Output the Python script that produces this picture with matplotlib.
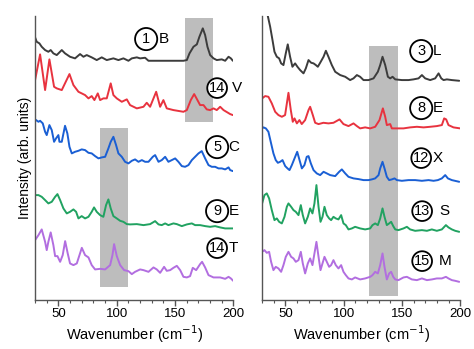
import matplotlib.pyplot as plt
from matplotlib.ticker import MultipleLocator

plt.rcParams['font.family'] = ['Liberation Sans', 'DejaVu Sans']

# ---- left panel spectra (wavenumber, stacked intensity) ----
l_black_x = [30.0, 31.4, 33.7, 35.7, 38.6, 41.4, 43.4, 45.7, 48.6, 52.9, 55.7, 60.0, 64.3, 68.6, 71.5, 74.3,
             78.6, 82.9, 87.2, 91.5, 97.2, 101.5, 105.8, 110.1, 113.0, 117.3, 120.1, 124.4, 127.3, 134.4, 145.9,
             157.3, 160.2, 162.5, 165.9, 168.8, 171.0, 173.9, 175.9, 177.9, 180.2, 183.1, 185.9, 190.2, 193.1,
             196.0, 198.0, 199.7]
l_black_y = [262.7, 258.3, 256.7, 253.3, 250, 248.3, 250, 246.7, 245, 250, 246.7, 243.3, 241.7, 246, 243.3, 245,
             242.7, 240, 242.7, 240, 241.7, 240, 241.7, 239.3, 241.7, 242.7, 241.7, 242.3, 239.3, 239.3, 239.3,
             239.3, 240, 246.7, 253.3, 255.7, 263.3, 271.7, 265, 253.3, 245, 241.7, 240, 240.7, 239.3,
             243.3, 241.7, 239.3]

l_red_x = [30.0, 34.3, 38.6, 42.3, 46.3, 48.6, 52.9, 59.5, 62.9, 67.2, 70.0, 72.9, 75.8, 78.6, 80.9, 83.8, 85.8,
           88.6, 91.5, 94.9, 97.2, 100.1, 104.4, 108.7, 111.5, 117.3, 123.0, 125.8, 128.7, 133.9, 137.3, 140.1,
           143.0, 148.7, 157.3, 160.2, 163.6, 166.5, 169.3, 171.6, 174.5, 177.3, 180.2, 183.1, 185.9, 188.8,
           191.7, 197.4, 199.7]
l_red_y = [220, 245.7, 210, 240.7, 213.3, 211.7, 210, 226, 215, 208.3, 206.7, 205, 201.7, 204, 200, 206.7, 200,
           201.7, 201.7, 216.7, 205, 201.7, 198.3, 200.7, 195, 191.7, 193.3, 197.3, 193.3, 208.3, 193.3, 200,
           191.7, 190, 188.3, 190, 200, 206, 200, 195, 195, 190.7, 190, 191.7, 190, 193.3,
           190, 186, 185]

l_blue_x = [30.0, 32.9, 34.3, 36.6, 38.6, 40.0, 42.3, 44.3, 46.3, 48.0, 50.0, 50.9, 52.9, 55.7, 57.7, 59.5, 61.5,
            64.3, 67.2, 70.0, 72.9, 75.8, 78.6, 81.5, 84.4, 87.2, 90.1, 92.9, 94.9, 97.2, 99.5, 101.5, 104.4,
            107.2, 110.1, 113.0, 115.8, 118.7, 121.6, 124.4, 127.3, 131.0, 133.0, 135.9, 138.7, 141.6, 144.4,
            147.3, 150.2, 153.0, 155.9, 158.7, 161.6, 164.5, 167.3, 170.2, 173.0, 175.9, 178.8, 181.6, 184.5,
            187.4, 190.2, 193.1, 196.0, 197.4, 199.7]
l_blue_y = [180.7, 178.3, 179.3, 176.7, 168.3, 165, 175, 170, 158.3, 161.7, 165, 158.3, 158.3, 174.3, 166.7, 153.3,
            146.7, 148.3, 149.3, 150.7, 150, 147.3, 146.7, 144, 141.7, 142.7, 143.3, 151.7, 158.3, 163.3, 155,
            146.7, 143.3, 138.3, 136.7, 139.3, 140.7, 138.3, 140, 138.3, 138.3, 143.3, 145, 138.3, 140, 143.3,
            138.3, 140, 141.7, 138.3, 134, 133.3, 135, 140, 143.3, 146.7, 149, 141.7, 135, 133.3, 133.3,
            131.7, 131.7, 130.7, 132.7, 130, 129]

l_green_x = [30.0, 32.9, 35.7, 38.6, 41.4, 44.3, 47.2, 49.2, 51.5, 54.3, 57.2, 60.0, 62.9, 65.2, 67.2, 70.0, 72.9,
             75.8, 78.6, 80.6, 82.9, 85.8, 88.6, 90.9, 92.9, 94.9, 97.2, 100.1, 103.0, 105.8, 108.7, 111.5,
             117.3, 123.0, 128.7, 133.0, 135.9, 138.7, 141.6, 144.4, 148.7, 151.6, 155.9, 160.2, 164.5, 167.3,
             171.6, 176.0, 180.2, 184.5, 188.8, 193.1, 199.7]
l_green_y = [105, 105, 103.3, 100, 96.7, 98.3, 103.3, 106, 100, 91.7, 86.7, 88.3, 90.7, 88.3, 81.7, 84, 81.7,
             83.3, 88.3, 92.7, 88.3, 85, 83.3, 95, 100.7, 91.7, 84, 81.7, 79.3, 78.3, 76, 75.7,
             76, 75, 76, 79, 75.7, 75, 76.7, 75, 76.7, 76, 74, 75.7, 76.7, 75,
             75, 74, 73.3, 74, 72.7, 71.7, 71.7]

l_purple_x = [30.0, 32.9, 35.7, 38.6, 40.0, 41.4, 43.4, 45.7, 47.2, 49.2, 51.5, 53.7, 55.8, 58.0, 60.0, 62.9,
              65.8, 68.1, 70.1, 72.9, 75.8, 78.6, 81.5, 85.8, 90.1, 94.4, 96.4, 97.8, 100.1, 103.0, 106.4,
              110.1, 113.0, 115.8, 120.1, 123.0, 127.3, 131.6, 134.4, 137.3, 140.7, 143.0, 145.9, 148.7, 151.6,
              154.5, 157.3, 160.2, 163.0, 165.3, 168.2, 171.6, 173.3, 175.9, 178.8, 183.1, 188.8, 193.1, 196.0,
              198.0, 200.0]
l_purple_y = [60, 65, 70.7, 58.3, 50, 58.3, 67.7, 55, 44, 44, 38.3, 45, 59, 46.7, 36.7, 35,
              36.7, 45, 52.3, 45, 42.7, 35, 30.7, 31.3, 30.7, 35, 45, 56, 44, 35, 30,
              29, 26, 28.3, 30.7, 30, 28.3, 32.7, 30.7, 27.3, 33.3, 29.3, 30, 32.3, 34.3,
              30, 23.3, 22.7, 24, 32.3, 30, 36, 38.3, 32.7, 25, 22.7, 22.7, 21.3, 23.3,
              21.7, 19.3]

# ---- right panel spectra ----
r_black_x = [30.0, 34.9, 36.9, 38.9, 40.6, 42.6, 44.6, 46.3, 48.3, 50.3, 52.0, 54.0, 56.0, 58.3, 60.3, 62.6,
             65.5, 67.5, 69.8, 72.1, 74.1, 76.1, 77.8, 79.8, 82.7, 84.7, 86.9, 89.8, 92.7, 97.0, 101.3, 105.5,
             108.4, 111.3, 114.1, 117.0, 121.3, 125.6, 129.3, 131.3, 133.3, 135.6, 137.9, 139.9, 141.9, 144.2,
             149.9, 155.6, 159.9, 164.2, 167.1, 169.9, 174.2, 178.5, 181.4, 183.7, 185.7, 188.5, 192.8, 199.1]
r_black_y = [305, 284, 273.3, 260, 248.3, 243.3, 241.7, 236.7, 235, 246.7, 255.7, 243.3, 233.3, 236.7, 233.3, 230,
             226.7, 231.7, 240, 237.3, 236.7, 235, 233.3, 237.3, 243.3, 249.3, 243.3, 235, 228.3, 225, 223.3, 220,
             221.7, 225, 223.3, 220, 220, 221.7, 228.3, 235, 243.3, 235, 223.3, 221.7, 223.3, 220.7,
             220, 220, 220.7, 221.7, 225, 221.7, 220, 221.7, 226.7, 221.7, 220, 220.7, 220, 219.3]

r_red_x = [30.0, 32.6, 35.4, 38.3, 41.2, 44.0, 46.9, 49.7, 52.6, 54.6, 56.3, 57.8, 59.8, 62.0, 64.0, 66.9, 69.8,
           71.2, 73.5, 75.5, 78.4, 82.6, 86.9, 91.2, 96.4, 99.8, 104.1, 108.4, 111.3, 114.1, 118.4, 122.7, 127.0,
           130.7, 133.6, 135.6, 137.0, 139.9, 141.3, 145.6, 151.3, 157.0, 162.8, 168.5, 174.2, 179.9, 184.2,
           186.2, 187.9, 189.9, 194.2, 199.9]
r_red_y = [201.7, 204, 203.3, 196.7, 188.3, 185, 183.3, 185, 207.3, 190, 178.3, 181.7, 176.7, 180, 176, 180, 190,
           193.3, 185, 177.3, 176, 177.3, 176.7, 177.3, 180.7, 176, 174, 176.7, 174, 171.7, 172.7, 171.7, 173.3,
           180, 191.7, 183.3, 175, 176, 171.7, 171.7, 171.7, 172.7, 173.3, 172.7, 173.3, 174, 175,
           181.7, 180.7, 175, 172.7, 171.7]

r_blue_x = [30.0, 31.2, 33.2, 35.4, 37.7, 39.7, 41.7, 43.5, 45.5, 47.5, 49.8, 51.8, 53.5, 55.5, 57.8, 60.1, 62.1,
            64.1, 66.3, 68.3, 69.8, 71.8, 74.1, 76.9, 79.8, 82.7, 85.5, 88.4, 92.7, 96.1, 98.4, 101.3, 104.1,
            108.4, 112.7, 117.0, 121.3, 124.1, 127.0, 129.9, 131.3, 133.3, 135.0, 137.0, 139.0, 141.3, 143.6,
            145.6, 149.9, 155.6, 161.3, 167.1, 172.8, 177.1, 180.8, 184.2, 187.1, 189.4, 192.8, 199.1]
r_blue_y = [171.7, 172.7, 171.7, 168.3, 156.7, 146.7, 140, 137.3, 138.3, 140, 134, 131.7, 130, 135, 141.7, 148.3, 140,
            131.7, 135, 143.3, 144, 136.7, 130, 126.7, 125, 128.3, 126.7, 125, 124, 128.3, 130.7, 126.7, 123.3,
            121.7, 121, 120, 120, 120.7, 121.7, 125, 131.7, 138.3, 131.7, 123.3, 120, 120.7, 121.7,
            120, 119.3, 120, 120, 119.3, 120, 119.3, 120, 121.7, 125, 121.7, 120, 118.3]

r_green_x = [30.0, 32.0, 34.0, 36.0, 38.3, 40.6, 42.6, 44.6, 46.9, 49.2, 51.2, 52.6, 54.9, 56.9, 58.9, 61.2, 63.2,
             64.9, 66.9, 69.2, 71.2, 73.2, 74.9, 76.6, 78.4, 80.1, 81.8, 83.5, 85.5, 87.5, 89.2, 91.2, 93.2, 95.5,
             97.8, 99.8, 101.8, 104.1, 107.0, 109.8, 114.1, 118.4, 122.7, 124.7, 127.0, 129.3, 131.3, 133.3, 135.0,
             137.0, 139.0, 140.7, 142.5, 144.2, 147.0, 151.3, 154.2, 157.0, 161.3, 167.1, 171.4, 175.6, 179.9,
             184.2, 187.7, 189.9, 192.8, 195.7, 199.1]
r_green_y = [96.7, 105, 106.7, 101.7, 90, 80, 81.7, 78.3, 76.7, 83.3, 93.3, 96.7, 93.3, 90, 88.3, 85, 95,
             85, 76.7, 83.3, 91.7, 86.7, 96.7, 115, 93.3, 78.3, 83.3, 93.3, 85, 81.7, 80, 83.3, 81.7, 80.7,
             85, 76.7, 75, 70.7, 71.7, 73.3, 71.7, 70.7, 71.7, 75, 76.7, 75, 81.7, 91.7, 83.3,
             75, 76.7, 78.3, 74, 70.7, 70, 71.7, 73.3, 70.7, 69.3, 70, 69.3, 70.7, 69.3,
             70.7, 75, 72.7, 70.7, 69.3, 68.3]

r_purple_x = [30.0, 32.0, 34.0, 36.0, 37.7, 39.7, 41.7, 44.0, 46.3, 48.3, 50.3, 52.6, 54.9, 56.9, 58.9, 61.2, 63.2,
              64.9, 66.9, 69.2, 71.2, 73.2, 74.9, 76.6, 78.4, 80.1, 81.8, 83.5, 85.5, 87.5, 89.2, 91.2, 93.2,
              95.5, 97.8, 99.8, 101.8, 104.1, 107.0, 109.8, 114.1, 118.4, 122.7, 124.7, 127.0, 129.3, 131.3,
              133.3, 135.0, 137.0, 139.0, 140.7, 142.5, 144.2, 147.0, 151.3, 154.2, 158.5, 162.8, 167.1, 171.4,
              175.6, 179.9, 184.2, 187.7, 189.9, 192.8, 195.7, 199.1]
r_purple_y = [48.3, 50, 47.3, 48.3, 38.3, 30, 33.3, 31.7, 28.3, 35, 43.3, 48.3, 43.3, 41.7, 38.3, 40, 48.3,
              36.7, 26.7, 36.7, 41.7, 35, 46.7, 58.3, 43.3, 30, 36.7, 43.3, 38.3, 33.3, 35, 40, 35,
              31.7, 35, 28.3, 25, 21.7, 20.7, 22.7, 20.7, 21.7, 23.3, 25, 28.3, 26.7, 35,
              46.7, 33.3, 20.7, 26.7, 28.3, 23.3, 20.7, 20, 22.7, 23.3, 20.7, 20, 21.7, 20,
              20.7, 21.7, 21.7, 23.3, 21.7, 20, 19.3, 18.3]

# highlighted bands: (start, end, bottom, top)
l_bands = [(159, 183, 178, 282), (86, 110, 13, 172)]
r_bands = [(122, 147, 4, 254)]

# sample labels: (number, letter, circle x, y, letter offset)
l_labels = [('1', 'B', 125.3, 261, 11.0), ('14', 'V', 186.2, 212, 13.0), ('5', 'C', 186.2, 153, 9.8),
            ('9', 'E', 186.2, 89, 10.2), ('14', 'T', 186.2, 52, 10.0)]
r_labels = [('3', 'L', 166.5, 249, 9.8), ('8', 'E', 166.5, 192, 10.2), ('12', 'X', 166.5, 142, 9.8),
            ('13', 'S', 167.3, 89, 15.0), ('15', 'M', 167.3, 39, 14.0)]

colors = ['#3c3c3c', '#e8333f', '#1a5fd4', '#21a261', '#b26ee0']

fig = plt.figure(figsize=(4.74, 3.49), dpi=100)
ax1 = fig.add_axes([0.074, 0.140, 0.418, 0.814])
ax2 = fig.add_axes([0.553, 0.140, 0.418, 0.814])

left = [(l_black_x, l_black_y), (l_red_x, l_red_y), (l_blue_x, l_blue_y),
        (l_green_x, l_green_y), (l_purple_x, l_purple_y)]
right = [(r_black_x, r_black_y), (r_red_x, r_red_y), (r_blue_x, r_blue_y),
         (r_green_x, r_green_y), (r_purple_x, r_purple_y)]

for ax, traces, bands, labels in [(ax1, left, l_bands, l_labels), (ax2, right, r_bands, r_labels)]:
    for x0, x1, y0, y1 in bands:
        ax.fill_between([x0, x1], y0, y1, color='#bdbdbd', lw=0, zorder=1)
    for (x, y), c in zip(traces, colors):
        ax.plot(x, y, color=c, lw=1.4, zorder=2, solid_joinstyle='round', solid_capstyle='round')
    for num, letter, x, y, off in labels:
        pad = 0.28 if len(num) == 1 else 0.12
        ax.text(x, y, num, ha='center', va='center', fontsize=10.5, zorder=5,
                bbox=dict(boxstyle=f'circle,pad={pad}', fc='white', ec='black', lw=1.3))
        ax.text(x + off, y, letter, ha='left', va='center', fontsize=11, zorder=6, clip_on=False)

    ax.set_xlim(30, 200)
    ax.set_ylim(0, 284)
    ax.set_yticks([])
    ax.spines['top'].set_visible(False)
    ax.spines['right'].set_visible(False)
    for s in ['left', 'bottom']:
        ax.spines[s].set_color('#555555')
        ax.spines[s].set_linewidth(1.0)
    ax.xaxis.set_major_locator(MultipleLocator(50))
    ax.xaxis.set_minor_locator(MultipleLocator(10))
    ax.tick_params(axis='x', which='major', length=4, width=1, color='#555555', labelsize=9.5, pad=2)
    ax.tick_params(axis='x', which='minor', length=2, width=0.8, color='#555555')
    ax.set_xlabel('Wavenumber (cm$^{-1}$)', fontsize=10.5, labelpad=2)

ax1.set_ylabel('Intensity (arb. units)', fontsize=10, labelpad=2)

fig.savefig('out.png', dpi=100)
